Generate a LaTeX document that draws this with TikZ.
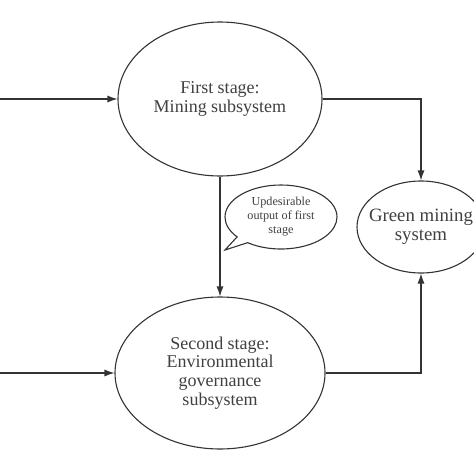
\documentclass[tikz,border=0pt]{standalone}
\usepackage{fontspec}
\setmainfont{Liberation Serif}
\usetikzlibrary{shapes.geometric,shapes.callouts,arrows.meta}
\definecolor{ink}{HTML}{333333}
\definecolor{txt}{HTML}{404040}
\begin{document}
\begin{tikzpicture}[x=1pt,y=-1pt,
  ell/.style={ellipse,draw=ink,line width=1.1pt,inner sep=0pt,align=center,text=txt},
  arr/.style={draw=ink,line width=1.1pt,-{Latex[length=10pt,width=7pt]}}]
\useasboundingbox (0,0) rectangle (474,474);
\node[ell,minimum width=204,minimum height=154,font=\fontsize{18}{18.7}\selectfont] (s1) at (220,99) {First stage:\\Mining subsystem};
\node[ell,minimum width=210,minimum height=152,font=\fontsize{18}{18.7}\selectfont] (s2) at (220,373) {Second stage:\\Environmental\\governance\\subsystem};
\node[ell,inner xsep=-12pt,minimum width=128,minimum height=92,font=\fontsize{18.8}{19.5}\selectfont] (g) at (421,227) {Green mining\\system};
\node[ellipse callout,draw=ink,line width=1.1pt,inner sep=0pt,align=center,text=txt,
      callout absolute pointer={(225,250)},minimum width=112,minimum height=64,
      font=\fontsize{12.2}{14}\selectfont] (c) at (281,217) {Updesirable\\output of first\\stage};
\coordinate (in1) at (0,99);
\coordinate (in2) at (0,373);
\draw[arr] (in1) -- (s1.west);
\draw[arr] (in2) -- (s2.west);
\draw[arr] (s1.south) -- (s2.north);
\draw[arr] (s1.east) -| (g.north);
\draw[arr] (s2.east) -| (g.south);
\end{tikzpicture}
\end{document}
